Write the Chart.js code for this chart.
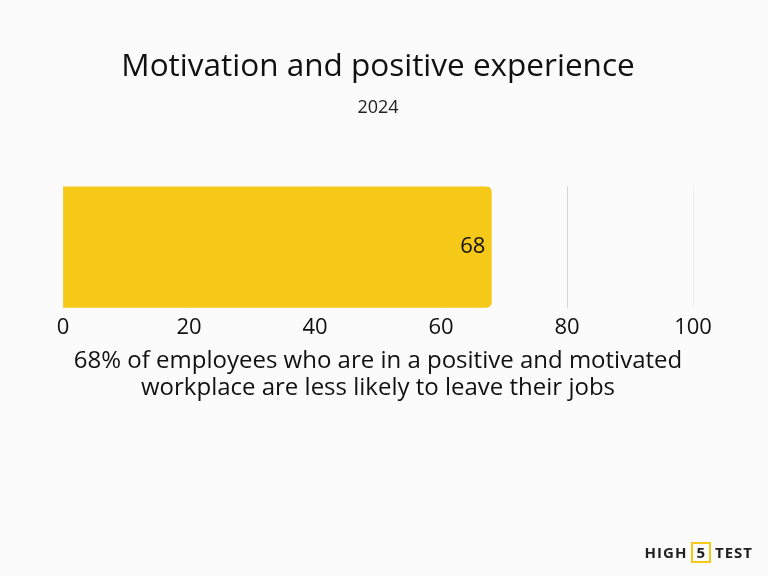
<!DOCTYPE html>
<html>
<head>
<meta charset="utf-8">
<script src="https://cdn.jsdelivr.net/npm/chart.js@4"></script>
<style>
  html, body { margin: 0; padding: 0; background: #fbfbfb; }
  #wrap { position: relative; width: 768px; height: 576px; }
  #logo { position: absolute; right: 15px; top: 542px; font-family: 'Open Sans', sans-serif; font-weight: 700; font-size: 15px; letter-spacing: 1px; color: #222; line-height: 20px; }
  #logo .five { display: inline-block; border: 2px solid #f5c918; padding: 0 3px; line-height: 17px; margin: 0 4px; }
</style>
</head>
<body>
<div id="wrap">
  <canvas id="c" width="768" height="576"></canvas>
  <div id="logo">HIGH<span class="five">5</span>TEST</div>
</div>
<script>
const categories = ['Employees'];
const values = [68];
const tickValues = [0, 20, 40, 60, 80, 100];
const titleText = 'Motivation and positive experience';
const subtitleText = '2024';
const captionLines = ['68% of employees who are in a positive and motivated', 'workplace are less likely to leave their jobs'];

const FONT = "'Open Sans', sans-serif";

const labelPlugin = {
  id: 'barLabel',
  afterDatasetsDraw(chart) {
    const ctx = chart.ctx;
    const meta = chart.getDatasetMeta(0);
    meta.data.forEach((el, i) => {
      ctx.save();
      ctx.font = '22px ' + FONT;
      ctx.fillStyle = '#111';
      ctx.textAlign = 'right';
      ctx.textBaseline = 'middle';
      ctx.fillText(String(values[i]), el.x - 6, el.y);
      ctx.restore();
    });
  }
};

new Chart(document.getElementById('c'), {
  type: 'bar',
  data: {
    labels: categories,
    datasets: [{
      data: values,
      backgroundColor: '#f6c918',
      borderRadius: { topRight: 6, bottomRight: 6, topLeft: 0, bottomLeft: 0 },
      borderSkipped: false,
      barPercentage: 1,
      categoryPercentage: 1
    }]
  },
  options: {
    indexAxis: 'y',
    responsive: false,
    animation: false,
    layout: { padding: { left: 63, right: 75, top: 0, bottom: 175 } },
    plugins: {
      legend: { display: false },
      tooltip: { enabled: false },
      title: {
        display: true, text: titleText, color: '#111',
        font: { family: FONT, size: 31.5, weight: '500' },
        padding: { top: 48, bottom: 11 }
      },
      subtitle: {
        display: true, text: subtitleText, color: '#222',
        font: { family: FONT, size: 18 },
        padding: { top: 0, bottom: 68 }
      }
    },
    scales: {
      x: {
        min: 0, max: 100,
        afterBuildTicks(axis) { axis.ticks = tickValues.map(v => ({ value: v })); },
        grid: {
          color: (c) => c.tick && c.tick.value === 100 ? 'rgba(0,0,0,0.05)' : 'rgba(0,0,0,0.15)',
          drawTicks: false
        },
        border: { display: false },
        ticks: { color: '#111', font: { family: FONT, size: 22 }, padding: 7 },
        title: {
          display: true, text: captionLines, color: '#111',
          font: { family: FONT, size: 24, lineHeight: 1.1 },
          padding: { top: 0, bottom: 0 }
        }
      },
      y: { display: false }
    }
  },
  plugins: [labelPlugin]
});
</script>
</body>
</html>
